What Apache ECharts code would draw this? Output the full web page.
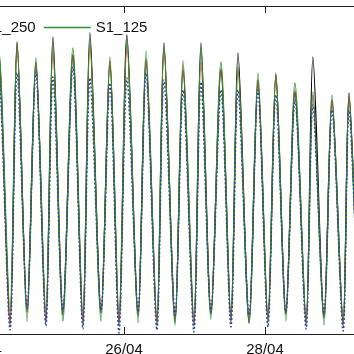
<!DOCTYPE html>
<html>
<head>
<meta charset="utf-8">
<style>
  html, body { margin: 0; padding: 0; background: #fff; }
  #chart { width: 354px; height: 354px; }
</style>
<script src="https://cdn.jsdelivr.net/npm/echarts@6/dist/echarts.min.js"></script>
</head>
<body>
<div id="chart"></div>
<script>
// hours from 26/04 00:00, at each high / low of the signal
const hours = [-48.7, -45.6, -42.6, -38.8, -36.4, -33.0, -30.0, -26.6, -24.2, -20.8, -17.4, -14.0, -11.6, -7.8, -4.8, -1.7, 1.0, 4.8, 7.5, 11.2, 13.6, 17.4, 20.1, 23.8, 26.2, 29.6, 33.0, 36.4, 38.8, 42.6, 45.6, 49.0, 51.7, 55.1, 58.2, 62.0, 64.3, 68.1, 70.8, 74.6, 76.6, 80.3, 82.7];

const obs = [2.74, 0.12, 2.79, 0.09, 2.92, 0.22, 2.72, 0.12, 2.97, 0.19, 2.79, 0.09, 3.01, 0.21, 2.72, 0.08, 2.99, 0.18, 2.74, 0.09, 2.91, 0.12, 2.64, 0.08, 2.91, 0.20, 2.64, 0.12, 2.81, 0.11, 2.54, 0.12, 2.59, 0.20, 2.42, 0.10, 2.77, 0.16, 2.34, 0.08, 2.41, 0.18, 2.39];
const s1_250 = [2.72, 0.14, 2.76, 0.12, 2.89, 0.22, 2.71, 0.14, 2.84, 0.22, 2.79, 0.14, 2.89, 0.22, 2.74, 0.12, 2.89, 0.20, 2.76, 0.12, 2.84, 0.16, 2.69, 0.12, 2.72, 0.22, 2.66, 0.16, 2.66, 0.16, 2.54, 0.16, 2.59, 0.20, 2.44, 0.14, 2.39, 0.18, 2.34, 0.12, 2.38, 0.19, 2.36];
const s1_125 = [2.76, 0.22, 2.84, 0.24, 2.91, 0.12, 2.76, 0.22, 2.89, 0.13, 2.86, 0.19, 2.94, 0.13, 2.77, 0.19, 2.94, 0.11, 2.83, 0.16, 2.88, 0.09, 2.73, 0.16, 2.86, 0.15, 2.72, 0.18, 2.67, 0.11, 2.61, 0.18, 2.61, 0.13, 2.51, 0.16, 2.42, 0.09, 2.39, 0.14, 2.36, 0.12, 2.34];
const s1_500 = [2.54, 0.04, 2.59, 0.04, 2.61, 0.26, 2.62, 0.08, 2.57, 0.24, 2.67, 0.05, 2.56, 0.24, 2.51, 0.01, 2.56, 0.22, 2.61, 0.04, 2.54, 0.19, 2.44, 0.02, 2.52, 0.22, 2.44, 0.07, 2.44, 0.19, 2.44, 0.07, 2.39, 0.22, 2.34, 0.05, 2.29, 0.20, 2.24, 0.03, 2.24, 0.20, 2.22];

const tickHours = [-48, 0, 48, 96];
const tickLabels = ['24/04', '26/04', '28/04', '30/04'];

const font = 'Liberation Sans, Arial, sans-serif';

function pairs(vals) {
  return hours.map((h, i) => [h, vals[i]]);
}

let chart = echarts.init(document.getElementById('chart'), null, { renderer: 'canvas' });

let axisBase = {
  type: 'value',
  min: -48,
  max: 96,
  interval: 48,
  axisLine: { show: true, lineStyle: { color: '#222', width: 1 } },
  axisTick: { show: true, inside: true, length: 7, lineStyle: { color: '#222' } },
  splitLine: { show: false }
};

let option = {
  animation: false,
  backgroundColor: '#fff',
  grid: {
    left: -17, right: -52, top: 6, bottom: 20,
    containLabel: false,
    outerBoundsMode: 'none'
  },
  legend: {
    data: ['S1_250', 'S1_125'],
    left: -73,
    top: 15,
    icon: 'rect',
    itemWidth: 47,
    itemHeight: 1.3,
    itemGap: 8,
    textStyle: { fontFamily: font, fontSize: 15, color: '#111' }
  },
  xAxis: [
    Object.assign({}, axisBase, {
      position: 'bottom',
      axisLabel: {
        show: true,
        margin: 8,
        fontFamily: font,
        fontSize: 15,
        color: '#111',
        formatter: v => tickLabels[tickHours.indexOf(v)] || ''
      }
    }),
    Object.assign({}, axisBase, {
      position: 'top',
      axisLabel: { show: false }
    })
  ],
  yAxis: {
    type: 'value',
    min: 0,
    max: 3.28,
    show: false
  },
  series: [
    {
      name: 'Obs',
      type: 'line',
      data: pairs(obs),
      symbol: 'none',
      smooth: 0.3,
      lineStyle: { color: '#000', width: 1.3 }
    },
    {
      name: 'S1_250',
      type: 'line',
      data: pairs(s1_250),
      symbol: 'none',
      smooth: 0.3,
      itemStyle: { color: '#c8321e' },
      lineStyle: { color: '#c8321e', width: 1.2 }
    },
    {
      name: 'S1_125',
      type: 'line',
      data: pairs(s1_125),
      symbol: 'none',
      smooth: 0.3,
      itemStyle: { color: '#2f9330' },
      lineStyle: { color: '#2f9330', width: 1.3 }
    },
    {
      name: 'S1_500',
      type: 'line',
      data: pairs(s1_500),
      symbol: 'none',
      smooth: 0.3,
      lineStyle: { color: '#2a4a96', width: 1.5, type: [2, 2] }
    }
  ]
};

chart.setOption(option);
window.addEventListener('resize', chart.resize);
</script>
</body>
</html>
